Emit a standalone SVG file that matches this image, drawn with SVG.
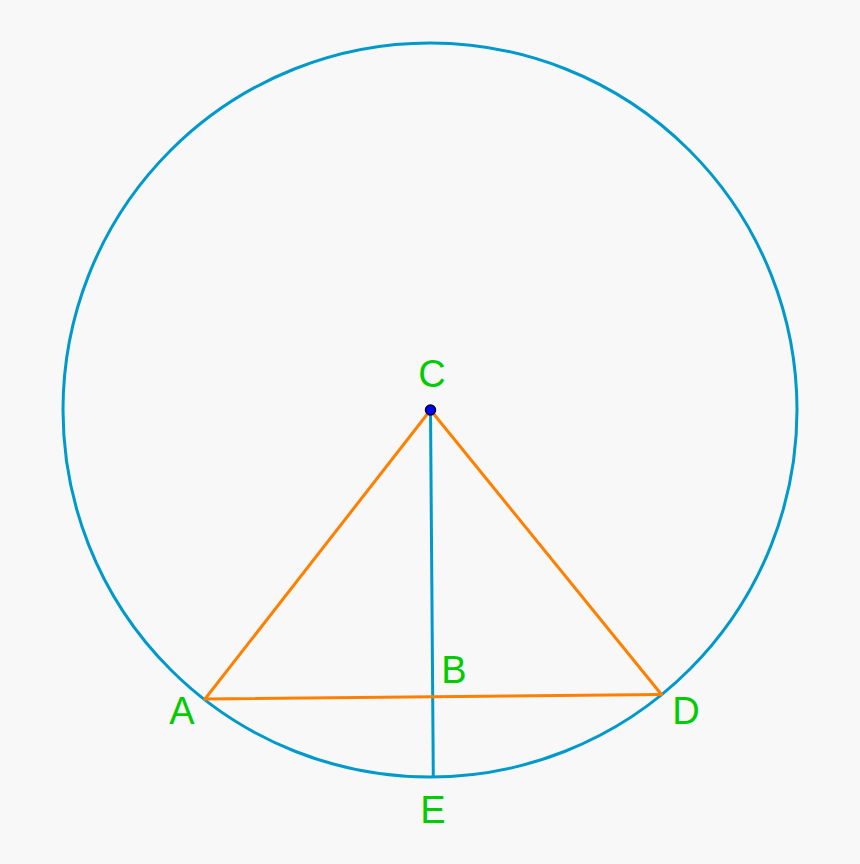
<svg xmlns="http://www.w3.org/2000/svg" width="860" height="864" viewBox="0 0 860 864">
<style>
.circ{fill:none;stroke:#0099cc;stroke-width:3}
.seg{stroke:#ff8000;stroke-width:3;fill:none;stroke-linecap:round}
.rad{stroke:#0099cc;stroke-width:3;fill:none}
.lbl{font-family:"Liberation Sans",Arial,sans-serif;font-size:38px;fill:#00cc00;text-anchor:middle}
</style>
<rect width="860" height="864" fill="#f8f8f8"/>
<g id="circle"><circle class="circ" cx="430" cy="410" r="367"/></g>
<g id="connectors">
<line class="rad" x1="430.5" y1="410" x2="433.3" y2="777"/>
<line class="seg" x1="430.5" y1="410" x2="205" y2="699"/>
<line class="seg" x1="430.5" y1="410" x2="661.5" y2="694.5"/>
<line class="seg" x1="205" y1="699" x2="661.5" y2="694.5"/>
</g>
<g id="C"><circle cx="430.5" cy="410" r="5" fill="#0000ff" stroke="#000033" stroke-width="1.5"/><text class="lbl" x="432" y="387">C</text></g>
<g id="A"><text class="lbl" x="182" y="724">A</text></g>
<g id="B"><text class="lbl" x="454" y="683">B</text></g>
<g id="D"><text class="lbl" x="686" y="724">D</text></g>
<g id="E"><text class="lbl" x="433" y="823">E</text></g>
</svg>
